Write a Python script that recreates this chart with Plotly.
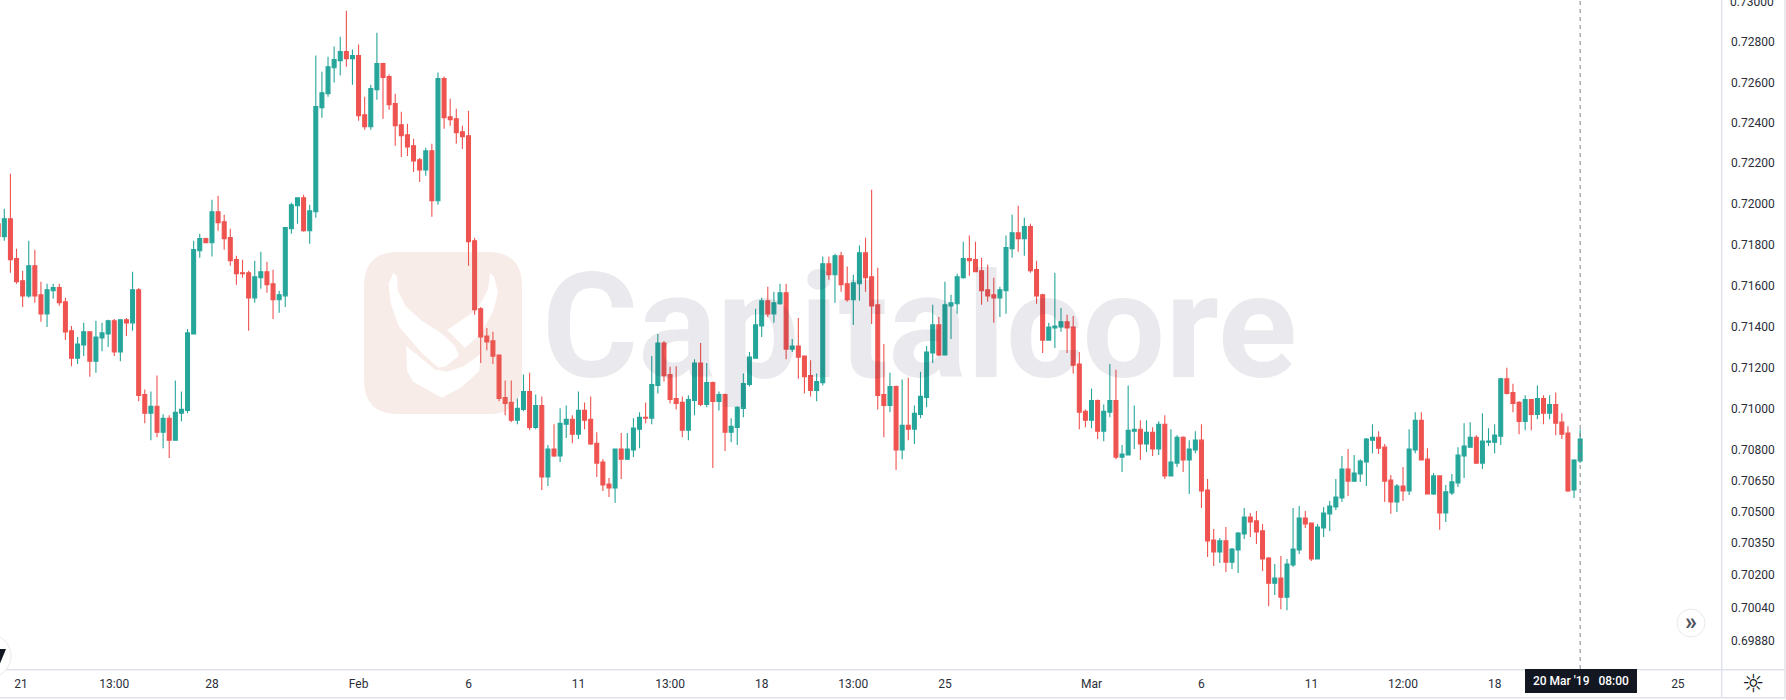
import math
import plotly.graph_objects as go

high = [
0.71922,0.71976,0.72148,0.71780,0.71672,0.71819,0.71775,0.71618,0.71608,0.71608,
0.71608,0.71539,0.71402,0.71348,0.71417,0.71376,0.71427,0.71417,0.71432,0.71436,
0.71436,0.71441,0.71667,0.71587,0.71092,0.71083,0.71160,0.70972,0.70967,0.71136,
0.71083,0.71387,0.71819,0.71853,0.71834,0.72020,0.72040,0.71947,0.71878,0.71745,
0.71726,0.71672,0.71721,0.71765,0.71716,0.71677,0.71574,0.71883,0.72005,0.72030,
0.72045,0.71996,0.72733,0.72653,0.72728,0.72778,0.72827,0.72956,0.72763,0.72788,
0.72529,0.72589,0.72847,0.72698,0.72639,0.72544,0.72455,0.72395,0.72321,0.72226,
0.72276,0.72296,0.72649,0.72629,0.72519,0.72470,0.72385,0.72460,
0.71834,0.71495,0.71392,0.71373,0.71260,0.71136,0.71136,0.71049,0.71165,0.71174,
0.71068,0.71059,0.70823,0.70924,0.71001,0.71015,0.70967,0.71083,0.71030,0.71059,
0.70885,0.70755,0.70664,0.70806,0.70881,0.70881,0.70953,0.70982,0.71030,0.71255,
0.71363,0.71329,0.71203,0.71206,0.71059,0.71064,0.71240,0.71319,0.71221,0.71131,
0.71083,0.71073,0.70953,0.71011,0.71170,0.71275,0.71486,0.71539,0.71593,0.71569,
0.71608,0.71608,0.71338,0.71441,0.71255,0.71235,0.71170,0.71741,0.71741,0.71755,
0.71765,0.71692,0.71652,0.71795,0.71834,0.72069,0.71687,0.71314,
0.71174,0.71112,0.71141,0.71150,0.71015,0.71179,0.71304,0.71505,0.71446,0.71618,
0.71554,0.71657,0.71814,0.71844,0.71814,0.71736,0.71701,0.71638,0.71593,0.71844,
0.71947,0.71991,0.71932,0.71902,0.71721,0.71559,0.71417,0.71662,0.71490,0.71456,
0.71451,0.71275,0.70996,0.71097,0.71044,0.71020,0.71216,0.71189,0.70823,0.71112,
0.71015,0.70943,0.70943,0.70909,0.70938,0.70967,0.70900,0.70871,0.70866,0.70847,
0.70890,0.70924,0.70659,0.70418,0.70375,0.70428,0.70327,0.70404,0.70519,0.70495,
0.70505,0.70442,0.70284,0.70250,0.70288,0.70274,0.70519,0.70529,0.70505,0.70447,
0.70442,
0.70524,0.70553,0.70659,0.70770,0.70804,0.70775,0.70755,0.70857,0.70924,0.70890,
0.70828,0.70678,0.70635,0.70717,0.70900,0.70982,0.70982,0.70808,0.70688,0.70676,
0.70630,0.70683,0.70813,0.70929,0.70934,0.70871,0.70977,0.70905,0.70924,0.71150,
0.71198,0.71121,0.71035,0.71064,0.71044,0.71112,0.71064,0.71064,0.71078,0.70977,
0.70914,0.70755,0.70900]

low = [
0.71824,0.71819,0.71662,0.71608,0.71495,0.71539,0.71515,0.71422,0.71397,0.71535,
0.71500,0.71333,0.71206,0.71216,0.71255,0.71155,0.71174,0.71279,0.71299,0.71255,
0.71230,0.71353,0.71378,0.71035,0.70929,0.70847,0.70861,0.70808,0.70760,0.70845,
0.70938,0.70977,0.71361,0.71736,0.71807,0.71741,0.71868,0.71775,0.71696,0.71603,
0.71638,0.71378,0.71515,0.71584,0.71564,0.71436,0.71466,0.71495,0.71853,0.71902,
0.71863,0.71804,0.71932,0.72425,0.72529,0.72599,0.72634,0.72678,0.72589,0.72410,
0.72366,0.72366,0.72514,0.72420,0.72465,0.72286,0.72231,0.72236,0.72157,0.72108,
0.72138,0.71937,0.71996,0.72370,0.72385,0.72296,0.72271,0.71696,
0.71456,0.71221,0.71284,0.71216,0.71035,0.70967,0.70934,0.70924,0.70987,0.70895,
0.70900,0.70606,0.70625,0.70765,0.70741,0.70857,0.70832,0.70852,0.70900,0.70823,
0.70669,0.70601,0.70572,0.70544,0.70659,0.70751,0.70765,0.70808,0.70929,0.70924,
0.71073,0.71131,0.71025,0.70996,0.70861,0.70847,0.70967,0.71011,0.71006,0.70712,
0.70991,0.70794,0.70837,0.70823,0.70958,0.71107,0.71243,0.71348,0.71446,0.71417,
0.71505,0.71240,0.71275,0.71145,0.71073,0.71059,0.71035,0.71112,0.71628,0.71515,
0.71569,0.71520,0.71407,0.71525,0.71569,0.71412,0.70996,0.70861,
0.70982,0.70702,0.70755,0.70847,0.70828,0.70953,0.71006,0.71221,0.71255,0.71258,
0.71338,0.71461,0.71633,0.71647,0.71665,0.71505,0.71520,0.71417,0.71446,0.71461,
0.71736,0.71765,0.71745,0.71662,0.71510,0.71270,0.71331,0.71294,0.71373,0.71270,
0.71170,0.70900,0.70909,0.70905,0.70852,0.70842,0.70958,0.70755,0.70693,0.70773,
0.70804,0.70751,0.70789,0.70770,0.70775,0.70659,0.70672,0.70717,0.70693,0.70587,
0.70784,0.70519,0.70284,0.70240,0.70255,0.70211,0.70226,0.70207,0.70370,0.70380,
0.70346,0.70216,0.70048,0.70101,0.70033,0.70028,0.70235,0.70298,0.70423,0.70264,
0.70272,
0.70380,0.70409,0.70510,0.70548,0.70577,0.70647,0.70645,0.70625,0.70784,0.70780,
0.70548,0.70491,0.70500,0.70553,0.70582,0.70784,0.70749,0.70585,0.70582,0.70414,
0.70452,0.70582,0.70620,0.70664,0.70811,0.70731,0.70707,0.70818,0.70784,0.70823,
0.71068,0.70982,0.70876,0.70895,0.70895,0.70948,0.70924,0.70948,0.70871,0.70852,
0.70597,0.70568,0.70736]

open_ = [
0.71902,0.71839,0.71927,0.71731,0.71623,0.71549,0.71696,0.71554,0.71461,0.71574,
0.71589,0.71520,0.71378,0.71245,0.71309,0.71373,0.71230,0.71343,0.71363,0.71427,
0.71275,0.71432,0.71417,0.71579,0.71068,0.70977,0.71011,0.70885,0.70953,0.70847,
0.70977,0.70991,0.71363,0.71770,0.71829,0.71809,0.71961,0.71912,0.71834,0.71726,
0.71662,0.71662,0.71539,0.71638,0.71667,0.71608,0.71530,0.71549,0.71878,0.71991,
0.72030,0.71868,0.71961,0.72475,0.72544,0.72673,0.72708,0.72753,0.72718,0.72733,
0.72440,0.72380,0.72564,0.72693,0.72629,0.72495,0.72390,0.72341,0.72286,0.72217,
0.72167,0.72261,0.72015,0.72619,0.72430,0.72420,0.72356,0.72336,
0.71819,0.71486,0.71353,0.71329,0.71260,0.71054,0.71030,0.70943,0.70996,0.71083,
0.70909,0.71015,0.70669,0.70804,0.70770,0.70924,0.70948,0.70876,0.70991,0.70948,
0.70832,0.70741,0.70635,0.70616,0.70804,0.70755,0.70799,0.70900,0.70958,0.70953,
0.71112,0.71319,0.71165,0.71049,0.71030,0.70895,0.71039,0.71221,0.71020,0.71126,
0.71035,0.71068,0.70885,0.70909,0.71001,0.71117,0.71245,0.71402,0.71525,0.71461,
0.71510,0.71564,0.71289,0.71304,0.71255,0.71160,0.71088,0.71126,0.71706,0.71652,
0.71745,0.71608,0.71530,0.71608,0.71760,0.71642,0.71505,0.71068,
0.71015,0.71107,0.70799,0.70919,0.70900,0.70972,0.71054,0.71270,0.71407,0.71260,
0.71500,0.71510,0.71638,0.71731,0.71726,0.71672,0.71579,0.71554,0.71539,0.71574,
0.71780,0.71858,0.71829,0.71888,0.71677,0.71554,0.71333,0.71392,0.71397,0.71422,
0.71397,0.71216,0.70987,0.70943,0.71039,0.70890,0.70982,0.71039,0.70765,0.70775,
0.70890,0.70900,0.70828,0.70885,0.70804,0.70924,0.70674,0.70736,0.70861,0.70751,
0.70799,0.70847,0.70606,0.70365,0.70308,0.70361,0.70259,0.70317,0.70394,0.70476,
0.70457,0.70409,0.70279,0.70158,0.70182,0.70091,0.70245,0.70317,0.70471,0.70447,
0.70274,
0.70423,0.70491,0.70524,0.70568,0.70707,0.70649,0.70683,0.70741,0.70847,0.70861,
0.70813,0.70654,0.70548,0.70625,0.70601,0.70799,0.70943,0.70755,0.70587,0.70674,
0.70495,0.70592,0.70640,0.70770,0.70813,0.70861,0.70736,0.70837,0.70837,0.70866,
0.71145,0.71078,0.71030,0.70938,0.71044,0.70972,0.71049,0.70977,0.71020,0.70934,
0.70881,0.70606,0.70746]

close = [
0.71840,0.71927,0.71726,0.71618,0.71549,0.71696,0.71549,0.71461,0.71579,0.71589,
0.71515,0.71373,0.71245,0.71314,0.71373,0.71230,0.71348,0.71368,0.71427,0.71275,
0.71432,0.71417,0.71579,0.71064,0.70977,0.71011,0.70885,0.70953,0.70847,0.70982,
0.70996,0.71368,0.71775,0.71829,0.71809,0.71961,0.71907,0.71829,0.71721,0.71657,
0.71657,0.71539,0.71642,0.71667,0.71603,0.71530,0.71554,0.71883,0.71996,0.72030,
0.71868,0.71966,0.72480,0.72549,0.72678,0.72713,0.72753,0.72718,0.72733,0.72435,
0.72380,0.72569,0.72693,0.72624,0.72490,0.72385,0.72336,0.72281,0.72212,0.72167,
0.72261,0.72015,0.72619,0.72425,0.72415,0.72351,0.72331,0.71814,
0.71481,0.71348,0.71324,0.71255,0.71049,0.71025,0.70943,0.71001,0.71083,0.70909,
0.71015,0.70669,0.70804,0.70770,0.70929,0.70948,0.70876,0.70991,0.70943,0.70828,
0.70736,0.70630,0.70616,0.70804,0.70755,0.70804,0.70905,0.70958,0.70953,0.71117,
0.71319,0.71160,0.71044,0.71025,0.70895,0.71044,0.71221,0.71020,0.71126,0.71035,
0.71068,0.70885,0.70914,0.71006,0.71121,0.71250,0.71407,0.71525,0.71461,0.71515,
0.71564,0.71289,0.71304,0.71250,0.71155,0.71088,0.71131,0.71706,0.71652,0.71745,
0.71603,0.71530,0.71613,0.71760,0.71638,0.71500,0.71064,0.71015,
0.71107,0.70799,0.70919,0.70900,0.70977,0.71059,0.71275,0.71407,0.71260,0.71505,
0.71515,0.71642,0.71731,0.71721,0.71667,0.71574,0.71549,0.71539,0.71579,0.71785,
0.71858,0.71829,0.71888,0.71672,0.71549,0.71333,0.71397,0.71402,0.71422,0.71392,
0.71211,0.70982,0.70943,0.71039,0.70890,0.70987,0.71039,0.70765,0.70780,0.70895,
0.70900,0.70828,0.70885,0.70804,0.70924,0.70674,0.70741,0.70861,0.70751,0.70804,
0.70847,0.70601,0.70361,0.70308,0.70361,0.70259,0.70322,0.70399,0.70476,0.70452,
0.70404,0.70274,0.70158,0.70182,0.70091,0.70250,0.70322,0.70471,0.70442,0.70274,
0.70428,
0.70495,0.70529,0.70572,0.70707,0.70649,0.70688,0.70746,0.70852,0.70861,0.70808,
0.70649,0.70548,0.70625,0.70601,0.70804,0.70943,0.70751,0.70587,0.70674,0.70495,
0.70597,0.70645,0.70775,0.70818,0.70861,0.70736,0.70842,0.70842,0.70871,0.71145,
0.71073,0.71025,0.70938,0.71044,0.70972,0.71049,0.70977,0.71020,0.70929,0.70876,
0.70601,0.70751,0.70852]

candle_index = list(range(len(high)))
x_tick_positions = [3.75, 19, 35, 59, 77, 95, 110, 125, 140, 155, 179, 197, 215, 230, 245, 275]
x_tick_labels = ["21", "13:00", "28", "Feb", "6", "11", "13:00", "18", "13:00", "25", "Mar", "6", "11", "12:00", "18", "25"]
y_tick_values = [0.73, 0.728, 0.726, 0.724, 0.722, 0.72, 0.718, 0.716, 0.714, 0.712, 0.71, 0.708,
                 0.7065, 0.705, 0.7035, 0.702, 0.7004, 0.6988]
y_tick_labels = ["%.5f" % v for v in y_tick_values]
crosshair_label = "20 Mar '19   08:00"
watermark = "Capitalcore"

UP = "#26a69a"
DOWN = "#ef5350"
TEXT = "#2a2e39"
W, H = 1786, 700
PW, PH = 1721, 669

def px(x):
    return x / PW

def py(y):
    return 1 - y / PH

def path(points):
    return "M" + " L".join(f"{px(x):.5f},{py(y):.5f}" for x, y in points) + " Z"

def z(X, Y):
    return (340 + X / 2.8, 230 + Y / 2.8)

# rounded logo tile with three cut-outs
x0, x1, y0, y1, r = 364, 522, 252, 414, 34
tile = (f"M{px(x0+r):.5f},{py(y0):.5f} L{px(x1-r):.5f},{py(y0):.5f} "
        f"Q{px(x1):.5f},{py(y0):.5f} {px(x1):.5f},{py(y0+r):.5f} "
        f"L{px(x1):.5f},{py(y1-r):.5f} Q{px(x1):.5f},{py(y1):.5f} {px(x1-r):.5f},{py(y1):.5f} "
        f"L{px(x0+r):.5f},{py(y1):.5f} Q{px(x0):.5f},{py(y1):.5f} {px(x0):.5f},{py(y1-r):.5f} "
        f"L{px(x0):.5f},{py(y0+r):.5f} Q{px(x0):.5f},{py(y0):.5f} {px(x0+r):.5f},{py(y0):.5f} Z")
hole1 = path([z(*p) for p in [(150,120),(136,150),(142,205),(165,270),(230,345),(275,385),(295,382),(333,352),(322,325),(285,290),(230,255),(185,215),(162,170),(160,130)]])
hole2 = path([z(*p) for p in [(420,120),(415,165),(385,222),(300,280),(350,330),(395,290),(430,225),(442,175),(432,132)]])
hole3 = path([z(*p) for p in [(185,325),(188,395),(205,425),(285,470),(340,440),(390,395),(393,348),(345,382),(300,397),(265,390)]])

fig = go.Figure(go.Candlestick(
    x=candle_index, open=open_, high=high, low=low, close=close,
    increasing=dict(line=dict(color=UP, width=1.1), fillcolor=UP),
    decreasing=dict(line=dict(color=DOWN, width=1.1), fillcolor=DOWN),
    whiskerwidth=0, hoverinfo="skip", showlegend=False,
))

LINE = "#e0e3eb"
shapes = [
    dict(type="path", xref="paper", yref="paper", path=tile + " " + hole1 + " " + hole2 + " " + hole3,
         fillcolor="rgba(201,108,88,0.13)", line=dict(width=0), layer="above"),
    dict(type="line", xref="x", yref="paper", x0=candle_index[-1], x1=candle_index[-1], y0=0, y1=1,
         line=dict(color="#80838c", width=1, dash="4px,4px"), layer="above"),
    dict(type="line", xref="paper", yref="paper", x0=0, x1=px(1786), y0=py(669.7), y1=py(669.7), line=dict(color=LINE, width=1.5)),
    dict(type="line", xref="paper", yref="paper", x0=0, x1=px(1786), y0=py(697.7), y1=py(697.7), line=dict(color=LINE, width=1.5)),
    dict(type="line", xref="paper", yref="paper", x0=px(1721.7), x1=px(1721.7), y0=py(0), y1=py(698), line=dict(color=LINE, width=1.5)),
    dict(type="line", xref="paper", yref="paper", x0=px(1785), x1=px(1785), y0=py(0), y1=py(698), line=dict(color=LINE, width=1.5)),
    dict(type="rect", xref="paper", yref="paper", x0=px(1525), x1=px(1637), y0=py(669), y1=py(693),
         fillcolor="#131722", line=dict(width=0), layer="above"),
    dict(type="circle", xref="paper", yref="paper", x0=px(1677), x1=px(1705), y0=py(609), y1=py(637),
         fillcolor="#ffffff", line=dict(color="#e9eaee", width=1), layer="above"),
    dict(type="circle", xref="paper", yref="paper", x0=px(-33), x1=px(11), y0=py(634), y1=py(678),
         fillcolor="#ffffff", line=dict(color="#e9eaee", width=1), layer="above"),
    dict(type="path", xref="paper", yref="paper", path=path([(-2,649),(6,649),(-1,666),(-2,666)]),
         fillcolor="#131722", line=dict(width=0), layer="above"),
]

annotations = [
    dict(text=f"<b>{watermark}</b>", xref="paper", yref="paper", x=px(919), y=py(327), showarrow=False,
         font=dict(family="Roboto", size=147, color="rgba(25,25,65,0.09)"), xanchor="center", yanchor="middle"),
    dict(text=crosshair_label, xref="paper", yref="paper", x=px(1581), y=py(681), showarrow=False,
         font=dict(family="Roboto", size=12, color="#ffffff", weight=500), xanchor="center", yanchor="middle"),
    dict(text="<b>»</b>", xref="paper", yref="paper", x=px(1691), y=py(622), showarrow=False,
         font=dict(family="Roboto", size=24, color="#50535e"), xanchor="center", yanchor="middle"),
    dict(text="☼", xref="paper", yref="paper", x=px(1753), y=py(683), showarrow=False,
         font=dict(family="DejaVu Sans", size=25, color="#131722"), xanchor="center", yanchor="middle"),
    dict(text=y_tick_labels[0], xref="paper", yref="y", x=px(1752), y=math.log10(y_tick_values[0]), showarrow=False,
         font=dict(family="Roboto", size=12, color=TEXT), xanchor="center", yanchor="middle"),
]

fig.update_layout(
    width=W, height=H, margin=dict(l=0, r=W - PW, t=0, b=H - PH, pad=0, autoexpand=False),
    paper_bgcolor="#ffffff", plot_bgcolor="#ffffff", showlegend=False, boxgap=0.36, boxgroupgap=0,
    hovermode=False, shapes=shapes, annotations=annotations,
    xaxis=dict(type="linear", range=[0.295, 282.06], rangeslider=dict(visible=False), showgrid=False, zeroline=False,
               showline=False, ticks="", tickmode="array", tickvals=x_tick_positions, ticktext=x_tick_labels,
               tickfont=dict(family="Roboto", size=12, color=TEXT), ticklabelstandoff=6, tickangle=0),
    yaxis=dict(type="log", range=[-0.156470, -0.136618], side="right", showgrid=False, zeroline=False,
               showline=False, ticks="", tickmode="array", tickvals=y_tick_values[1:], ticktext=y_tick_labels[1:],
               tickfont=dict(family="Roboto", size=12, color=TEXT), ticklabelstandoff=9),
)

fig.write_html("out.html", config=dict(displayModeBar=False),
               post_script="document.body.style.margin='0';document.body.style.overflow='hidden';")
